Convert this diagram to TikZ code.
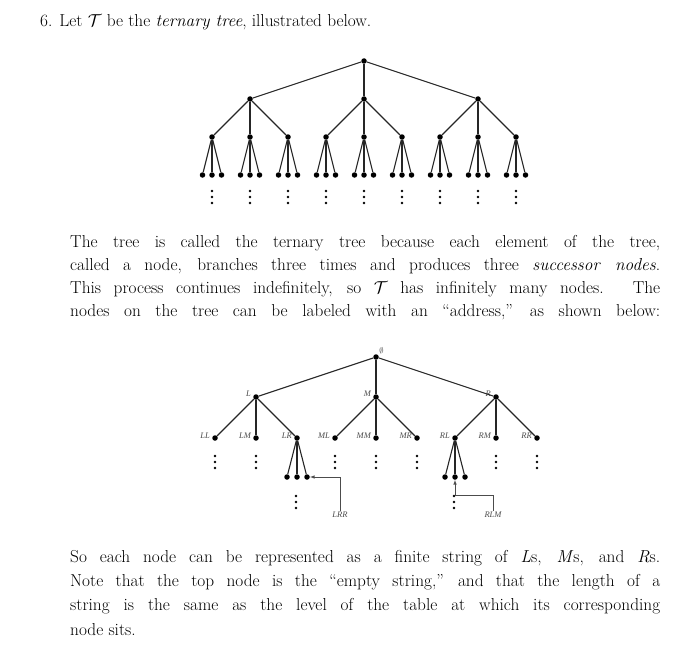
\documentclass[tikz,border=0pt]{standalone}
\usepackage{fontspec}
\newfontfamily\lab{Liberation Serif}
\begin{document}
\begin{tikzpicture}[x=1pt,y=-1pt,
  edge/.style={line width=1.1pt,draw=black!85},
  pt/.style={circle,fill=black,inner sep=0pt,minimum size=5.5pt},
  vd/.style={circle,fill=black,inner sep=0pt,minimum size=2.6pt},
  txt/.style={anchor=west,inner sep=0pt,font=\fontsize{17.3}{23}\selectfont},
  lb/.style={font=\lab\itshape\fontsize{8.5}{9}\selectfont,text=black!70,inner sep=1pt},
  arr/.style={line width=0.6pt,draw=black!70,-latex}]
\useasboundingbox (0,0) rectangle (700,666);
\newcommand\vdt[1]{\path #1 node[vd]{} ++(0,6) node[vd]{} ++(0,6) node[vd]{};}
% text
\node[txt] (t0) at (40,22) {6. Let $\mathcal{T}$ be the \emph{ternary tree}, illustrated below.};
\node[txt] (p1) at (70,243) {\makebox[590pt][s]{The tree is called the ternary tree because each element of the tree,}};
\node[txt] (p2) at (70,266) {\makebox[590pt][s]{called a node, branches three times and produces three \emph{successor nodes}.}};
\node[txt] (p3) at (70,289) {\makebox[590pt][s]{This process continues indefinitely, so $\mathcal{T}$ has infinitely many nodes. The}};
\node[txt] (p4) at (70,312) {\makebox[590pt][s]{nodes on the tree can be labeled with an ``address,'' as shown below:}};
\node[txt] (q1) at (70,558) {\makebox[590pt][s]{So each node can be represented as a finite string of \emph{L}s, \emph{M}s, and \emph{R}s.}};
\node[txt] (q2) at (70,582) {\makebox[590pt][s]{Note that the top node is the ``empty string,'' and that the length of a}};
\node[txt] (q3) at (70,606) {\makebox[590pt][s]{string is the same as the level of the table at which its corresponding}};
\node[txt] (q4) at (70,630) {node sits.};
% top tree
\node[pt] (r) at (364,61) {};
\foreach \i/\x in {0/250,1/364,2/478}{
  \node[pt] (a\i) at (\x,99) {};
  \draw[edge] (r) -- (a\i);
  \foreach \j/\d in {0/-38,1/0,2/38}{
    \node[pt] (b\i\j) at (\x+\d,137) {};
    \draw[edge] (a\i) -- (b\i\j);
    \foreach \k/\e in {0/-9.5,1/0,2/9.5}{
      \node[pt] (c\i\j\k) at (\x+\d+\e,175) {};
      \draw[edge] (b\i\j) -- (c\i\j\k);
    }
    \vdt{(\x+\d,191)}
  }
}
% bottom tree
\node[pt] (R0) at (376,357) {};
\node[lb,anchor=south west] at (R0.north east) {$\emptyset$};
\foreach \i/\x/\n in {0/256/L,1/376/M,2/496/R}{
  \node[pt] (A\i) at (\x,397) {};
  \node[lb,anchor=east] at ([xshift=-1pt,yshift=3pt]A\i.west) {\n};
  \draw[edge] (R0) -- (A\i);
  \foreach \j/\d/\m in {0/-41/L,1/0/M,2/41/R}{
    \node[pt] (B\i\j) at (\x+\d,438) {};
    \node[lb,anchor=east] at ([xshift=-1pt,yshift=2pt]B\i\j.west) {\n\m};
    \draw[edge] (A\i) -- (B\i\j);
  }
}
\foreach \p in {B00,B01,B10,B11,B12,B21,B22}{\vdt{([yshift=-18pt]\p)}}
\foreach \p in {B02,B20}{
  \foreach \k/\e in {0/-10,1/0,2/10}{
    \node[pt] (\p c\k) at ([xshift=\e pt,yshift=-39pt]\p) {};
    \draw[edge] (\p) -- (\p c\k);
  }
}
\vdt{(296,496)}
\vdt{(454,496)}
\node[lb] (lrr) at (340,515) {LRR};
\node[lb] (rlm) at (493,515) {RLM};
\draw[arr] (lrr.north) |- (B02c2.east);
\draw[arr] (rlm.north) |- ([yshift=-15pt]B20c1.south) -- (B20c1.south);
\end{tikzpicture}
\end{document}
